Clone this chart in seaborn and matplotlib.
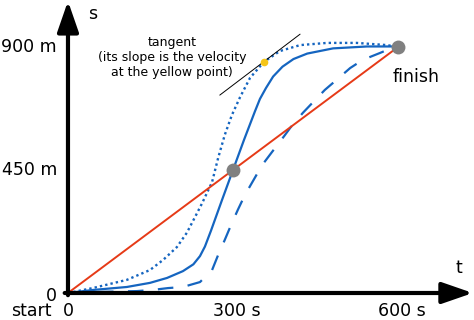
import matplotlib
matplotlib.use("Agg")
import matplotlib.pyplot as plt
import seaborn as sns
import pandas as pd

# ---- data (time in s, distance in m) ----
solid_t = [0, 45, 107, 149, 180, 209, 228, 240, 249, 260, 280, 300,
           320, 340, 349, 360, 373, 390, 410, 435, 482, 544, 591, 600]
solid_s = [0, 11, 22, 37, 55, 80, 105, 135, 170, 228, 340, 450,
           560, 665, 710, 750, 792, 828, 856, 876, 895, 902, 902, 900]

dotted_t = [0, 45, 107, 149, 173, 198, 216, 231, 244, 262, 273, 285, 298, 313,
            331, 356, 385, 422, 471, 525, 580, 600]
dotted_s = [0, 18, 48, 84, 121, 168, 220, 278, 329, 406, 494, 578, 651, 717,
            787, 845, 885, 907, 915, 915, 907, 900]

dashed_t = [0, 58, 125, 153, 182, 209, 240, 262, 273, 285, 298, 309, 318, 329,
            353, 371, 393, 404, 427, 445, 467, 489, 513, 536, 567, 585, 600]
dashed_s = [0, 4, 7, 11, 18, 22, 40, 84, 139, 194, 256, 305, 343, 384,
            468, 516, 574, 604, 659, 697, 743, 781, 823, 853, 878, 893, 900]

const_t = [0, 600]
const_s = [0, 900]

marker_t = [300, 600]
marker_s = [450, 900]

yellow_t = [356]
yellow_s = [845]

tangent_t = [276, 422]
tangent_s = [724, 947]

y_ticks = [900, 450, 0]
y_labels = ["900 m", "450 m", "0"]
x_ticks = [0, 300, 600]
x_labels = ["0", "300 s", "600 s"]

BLUE = "#1565c0"
RED = "#e63a17"

sns.set_style("white")
plt.rcParams["text.color"] = "black"
fig = plt.figure(figsize=(4.74, 3.2), dpi=100)
ax = fig.add_axes([0, 0, 1, 1])
ax.set_xlim(-123.6, 738.2)
ax.set_ylim(-98.8, 1072)
ax.axis("off")

line_kw = dict(x="t", y="s", sort=False, estimator=None, ax=ax)
sns.lineplot(data=pd.DataFrame({"t": solid_t, "s": solid_s}), color=BLUE,
             lw=1.6, **line_kw)
sns.lineplot(data=pd.DataFrame({"t": dotted_t, "s": dotted_s}), color=BLUE,
             lw=1.7, linestyle=(0, (1, 1.3)), **line_kw)
sns.lineplot(data=pd.DataFrame({"t": dashed_t, "s": dashed_s}), color=BLUE,
             lw=1.6, linestyle=(0, (7, 6.5)), **line_kw)
sns.lineplot(data=pd.DataFrame({"t": const_t, "s": const_s}), color=RED,
             lw=1.4, **line_kw)
sns.lineplot(data=pd.DataFrame({"t": tangent_t, "s": tangent_s}), color="black",
             lw=0.7, **line_kw)

ax.plot(marker_t, marker_s, "o", color="#808080", ms=10, mec="none", zorder=5)
ax.plot(yellow_t, yellow_s, "o", color="#f5c518", ms=5.5, mec="none", zorder=5)

# axes arrows
arrow_kw = dict(arrowstyle="-|>,head_length=0.75,head_width=0.26", lw=3,
                color="black", shrinkA=0, shrinkB=0, mutation_scale=25)
ax.annotate("", xy=(736, 0), xytext=(-6, 0), arrowprops=arrow_kw, zorder=6)
ax.annotate("", xy=(0, 1068), xytext=(0, -8), arrowprops=arrow_kw, zorder=6)

fs = 12.5
for v, lab in zip(y_ticks, y_labels):
    ax.text(-20, v if v else -10, lab, ha="right", va="center", fontsize=fs)
for v, lab in zip(x_ticks, x_labels):
    ax.text(v + (7 if v else 0), -97, lab, ha="center", va="bottom", fontsize=fs)
ax.text(-67, -97, "start", ha="center", va="bottom", fontsize=fs)
ax.text(44, 1021, "s", ha="center", va="center", fontsize=fs)
ax.text(711, 91, "t", ha="center", va="center", fontsize=fs)
ax.text(591, 772, "finish", ha="left", va="baseline", fontsize=fs)
ax.text(189, 860, "tangent\n(its slope is the velocity\nat the yellow point)",
        ha="center", va="center", fontsize=9)

fig.savefig("out.png", dpi=100)
